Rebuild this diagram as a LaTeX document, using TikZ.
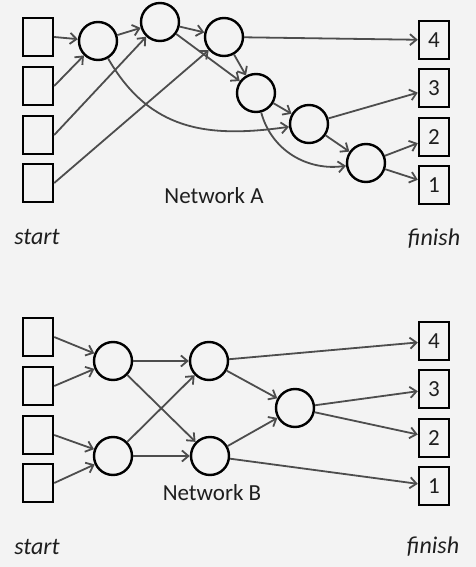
\documentclass[tikz,border=0pt]{standalone}
\usepackage{fontspec}
\setmainfont{Carlito}
\usetikzlibrary{arrows.meta}
\definecolor{bg}{HTML}{F3F3F3}
\definecolor{edge}{HTML}{4D4D4D}
\definecolor{ink}{HTML}{1E1E1E}
\begin{document}
\begin{tikzpicture}[x=1pt,y=-1pt,
  sq/.style={draw=black,line width=2.4pt,minimum width=30pt,minimum height=38pt,inner sep=0pt,font=\fontsize{23}{25}\selectfont,text=ink},
  cir/.style={draw=black,line width=2.4pt,circle,minimum size=38pt,inner sep=0pt},
  lab/.style={font=\fontsize{23}{26}\selectfont,text=ink},
  ilab/.style={font=\fontsize{24}{27}\selectfont\itshape,text=ink},
  arr/.style={draw=edge,line width=1.8pt,-{Straight Barb[length=6.5pt,width=11pt,line width=1.8pt]}}]
\fill[bg] (0,0) rectangle (476,567);
\useasboundingbox (0,0) rectangle (476,567);
% Network A
\node[sq] (a1) at (38,37) {};
\node[sq] (a2) at (38,86) {};
\node[sq] (a3) at (38,135) {};
\node[sq] (a4) at (38,183) {};
\node[cir] (c1) at (98,41) {};
\node[cir] (c2) at (160,22) {};
\node[cir] (c3) at (224,37) {};
\node[cir] (c4) at (256,93) {};
\node[cir] (c5) at (309,124) {};
\node[cir] (c6) at (366,163) {};
\node[sq] (o4) at (434,40) {4};
\node[sq] (o3) at (434,88) {3};
\node[sq] (o2) at (434,137) {2};
\node[sq] (o1) at (434,185) {1};
\node[lab] (na) at (214,196) {Network A};
\node[ilab] (sa) at (37,237) {start};
\node[ilab] (fa) at (434,239) {finish};
\draw[arr] (a1.east) -- (c1);
\draw[arr] (a2.east) -- (c1);
\draw[arr] (a3.east) -- (c2);
\draw[arr] (a4.east) -- (c3);
\draw[arr] (c1) -- (c2);
\draw[arr] (c2) -- (c3);
\draw[arr] (c2) -- (c4);
\draw[arr] (c3) -- (c4);
\draw[arr] (c3) -- (o4);
\draw[arr] (c1) to[out=-60,in=188,looseness=1.1] (c5);
\draw[arr] (c4) -- (c5);
\draw[arr] (c4) to[out=-75,in=188,looseness=1] (c6);
\draw[arr] (c5) -- (o3);
\draw[arr] (c5) -- (c6);
\draw[arr] (c6) -- (o2);
\draw[arr] (c6) -- (o1);
% Network B
\node[sq] (b1) at (38,337) {};
\node[sq] (b2) at (38,386) {};
\node[sq] (b3) at (38,435) {};
\node[sq] (b4) at (38,483) {};
\node[cir] (d1) at (113,361) {};
\node[cir] (d2) at (113,456) {};
\node[cir] (d3) at (209,361) {};
\node[cir] (d4) at (210,456) {};
\node[cir] (d5) at (295,408) {};
\node[sq] (p4) at (434,341) {4};
\node[sq] (p3) at (434,389) {3};
\node[sq] (p2) at (434,438) {2};
\node[sq] (p1) at (434,486) {1};
\node[lab] (nb) at (212,493) {Network B};
\node[ilab] (sb) at (37,547) {start};
\node[ilab] (fb) at (433,547) {finish};
\draw[arr] (b1.east) -- (d1);
\draw[arr] (b2.east) -- (d1);
\draw[arr] (b3.east) -- (d2);
\draw[arr] (b4.east) -- (d2);
\draw[arr] (d1) -- (d3);
\draw[arr] (d1) -- (d4);
\draw[arr] (d2) -- (d3);
\draw[arr] (d2) -- (d4);
\draw[arr] (d3) -- (p4);
\draw[arr] (d3) -- (d5);
\draw[arr] (d4) -- (d5);
\draw[arr] (d4) -- (p1);
\draw[arr] (d5) -- (p3);
\draw[arr] (d5) -- (p2);
\end{tikzpicture}
\end{document}
